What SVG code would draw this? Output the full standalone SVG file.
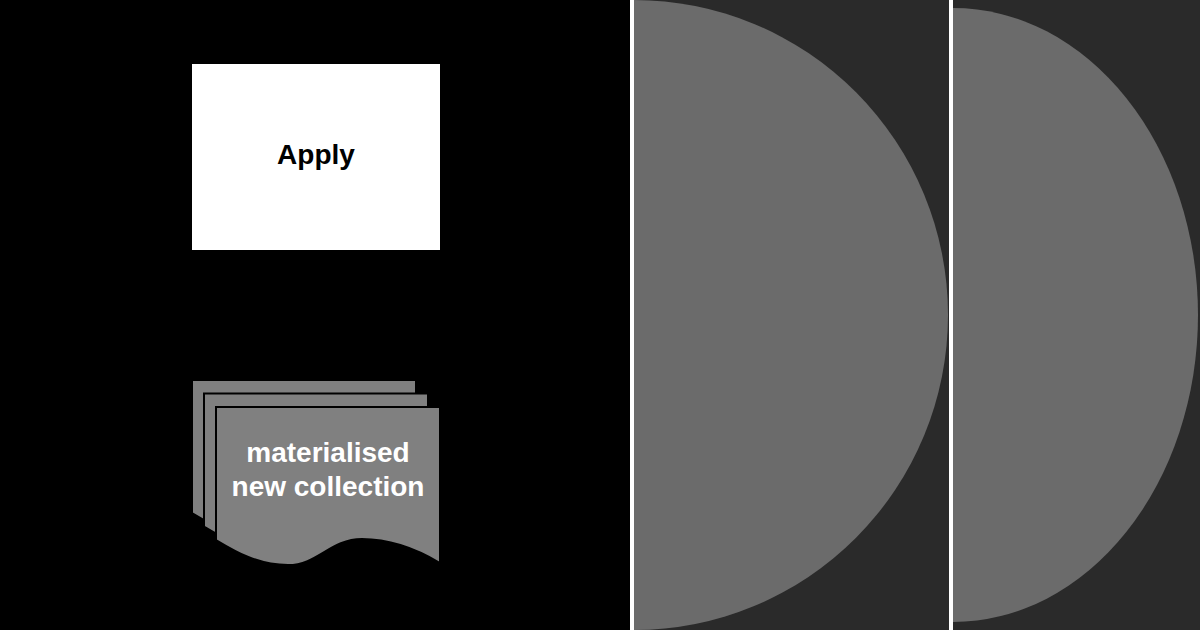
<svg xmlns="http://www.w3.org/2000/svg" width="1200" height="630" viewBox="0 0 1200 630">
  <style>
    .lbl { font-family: "Liberation Sans", Arial, sans-serif; font-weight: bold; font-size: 28px; text-anchor: middle; }
    .page { fill: #808080; stroke: #000000; stroke-width: 2; }
    .panel { fill: #2a2a2a; }
    .arc { fill: #6b6b6b; }
    .sep { fill: #ffffff; }
  </style>
  <defs>
    <path id="docpage" d="M216,407 H440 V563 C415,548 390,539 362,539 C330,539 318,565 288,565 C258,565 236,552 216,540 Z"/>
    <clipPath id="clip1"><rect x="634" y="0" width="315" height="630"/></clipPath>
    <clipPath id="clip2"><rect x="953" y="0" width="247" height="630"/></clipPath>
  </defs>
  <rect x="0" y="0" width="1200" height="630" fill="#000000"/>

  <g id="background-panels">
    <rect class="sep" x="630" y="0" width="4" height="630"/>
    <rect class="panel" x="634" y="0" width="315" height="630"/>
    <rect class="sep" x="949" y="0" width="4" height="630"/>
    <rect class="panel" x="953" y="0" width="247" height="630"/>
    <ellipse class="arc" cx="634" cy="315" rx="314" ry="315" clip-path="url(#clip1)"/>
    <ellipse class="arc" cx="953" cy="315" rx="245" ry="307" clip-path="url(#clip2)"/>
  </g>

  <g id="connectors"></g>

  <g id="apply">
    <rect x="192" y="64" width="248" height="186" fill="#ffffff"/>
    <text class="lbl" x="316" y="164" fill="#000000">Apply</text>
  </g>

  <g id="materialised-new-collection">
    <use href="#docpage" class="page" transform="translate(-24,-27)"/>
    <use href="#docpage" class="page" transform="translate(-12,-13.5)"/>
    <use href="#docpage" class="page"/>
    <text class="lbl" x="328" y="462" fill="#ffffff">materialised</text>
    <text class="lbl" x="328" y="496" fill="#ffffff">new collection</text>
  </g>
</svg>
